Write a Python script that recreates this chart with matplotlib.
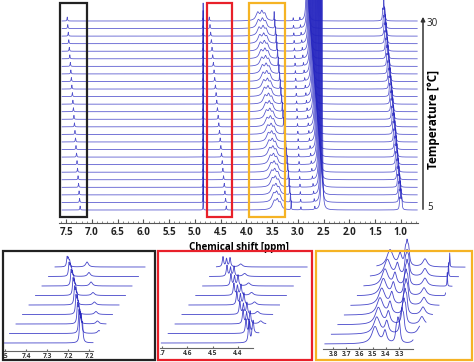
import numpy as np
import matplotlib
matplotlib.use("Agg")
import matplotlib.pyplot as plt
from matplotlib.patches import Rectangle
from matplotlib.ticker import MultipleLocator

plt.rcParams["font.family"] = ["Open Sans", "DejaVu Sans"]

# ---- main stack: 26 spectra, 5 .. 30 degC ----
TEMPS = [5, 6, 7, 8, 9, 10, 11, 12, 13, 14, 15, 16, 17, 18, 19, 20,
         21, 22, 23, 24, 25, 26, 27, 28, 29, 30]
# peak centre at 5 degC and at 30 degC (ppm), height (px), half width (ppm)
PEAK_PPM_5C = [7.23, 4.84, 4.39, 3.46, 3.40, 3.34, 3.13, 2.94, 2.67, 2.53,
               1.02, 1.00, 0.98]
PEAK_PPM_30C = [7.48, 4.84, 4.72, 3.78, 3.70, 3.64, 3.46, 3.09, 2.96, 2.82,
                1.35, 1.33, 1.31]
PEAK_HEIGHT = [4, 18, 4, 8, 8, 6, 9, 3, 3, 600, 10, 19, 10]
PEAK_WIDTH = [0.006, 0.003, 0.006, 0.04, 0.03, 0.03, 0.004, 0.005, 0.005, 0.005,
              0.008, 0.008, 0.008]

MAIN_TICKS = [7.5, 7.0, 6.5, 6.0, 5.5, 5.0, 4.5, 4.0, 3.5, 3.0, 2.5, 2.0, 1.5, 1.0]

# ---- inset 1 (aromatic, black box): 9 spectra, bottom -> top ----
IN1_MAIN = [7.143, 7.179, 7.217, 7.255, 7.293, 7.331, 7.371, 7.412, 7.452]
IN1_MAIN_H = [26, 20, 18, 17, 16, 15, 14, 12, 9]
IN1_SIDE = [7.048, 7.084, 7.122, 7.160, 7.198, 7.236, 7.276, 7.317, 7.357]
IN1_SIDE_H = [3, 3, 3, 3, 3, 3, 4, 4, 5]
IN1_TICKS = [7.5, 7.4, 7.3, 7.2, 7.1]
IN1_LABELS = [".5", "7.4", "7.3", "7.2", "7.2"]

# ---- inset 2 (red box) ----
IN2_MAIN = [4.356, 4.395, 4.434, 4.474, 4.513, 4.552, 4.591, 4.634, 4.677]
IN2_MAIN_H = [23, 14, 14, 13, 13, 12, 12, 11, 10]
IN2_SIDE = [4.286, 4.325, 4.364, 4.404, 4.443, 4.482, 4.521, 4.564, 4.607]
IN2_TICKS = [4.7, 4.6, 4.5, 4.4]
IN2_LABELS = [".7", "4.6", "4.5", "4.4"]

# ---- inset 3 (yellow box) ----
IN3_L = [3.482, 3.518, 3.555, 3.592, 3.628, 3.665, 3.702, 3.733, 3.762]
IN3_MID = [3.406, 3.442, 3.479, 3.516, 3.552, 3.589, 3.626, 3.657, 3.686]
IN3_M = [3.308, 3.327, 3.361, 3.402, 3.444, 3.493, 3.535, 3.584, 3.633]
IN3_R = [3.172, 3.191, 3.225, 3.266, 3.308, 3.357, 3.399, 3.448, 3.497]
IN3_S = [2.99, 3.03, 3.07, 3.11, 3.15, 3.19, 3.23, 3.27, 3.31]
IN3_TICKS = [3.8, 3.7, 3.6, 3.5, 3.4, 3.3]
IN3_LABELS = ["3.8", "3.7", "3.6", "3.5", "3.4", "3.3"]

LINE = "#2525c0"
W, H = 474, 362


def lorentz(x, c, h, w):
    return h / (1 + ((x - c) / w) ** 2)


def fig_rect(x0, y0, x1, y1):
    # image pixel box -> figure fraction [left, bottom, width, height]
    return [x0 / W, (H - y1) / H, (x1 - x0) / W, (y1 - y0) / H]


fig = plt.figure(figsize=(4.74, 3.62), dpi=100)

# ---------------- main stacked plot ----------------
ax = fig.add_axes(fig_rect(59, 0, 418, 223))
x = np.linspace(7.58, 0.68, 12000)
for i, t in enumerate(TEMPS):
    frac = (t - TEMPS[0]) / (TEMPS[-1] - TEMPS[0])
    y = np.full_like(x, 13 + 7.56 * i)
    for p5, p30, h, w in zip(PEAK_PPM_5C, PEAK_PPM_30C, PEAK_HEIGHT, PEAK_WIDTH):
        y += lorentz(x, p5 + (p30 - p5) * frac, h, w)
    ax.plot(x, y, color=LINE, lw=0.55, alpha=0.8)

ax.set_xlim(7.64, 0.665)
ax.set_ylim(0, 223)
ax.set_yticks([])
for s in ["top", "left", "right"]:
    ax.spines[s].set_visible(False)
ax.spines["bottom"].set_color("#555555")
ax.set_xticks(MAIN_TICKS)
ax.set_xticklabels([f"{v:.1f}" for v in MAIN_TICKS], fontsize=7, fontweight="bold",
                   color="#222222")
ax.xaxis.set_minor_locator(MultipleLocator(0.1))
ax.tick_params(axis="x", which="major", direction="in", length=3, color="#555555", pad=3)
ax.tick_params(axis="x", which="minor", direction="in", length=1.5, color="#777777")
ax.set_xlabel("Chemical shift [ppm]", fontsize=7, fontweight="bold", labelpad=3)

# highlight boxes in the main plot
for x0, x1, col in [(7.617, 7.092, "#222222"), (4.762, 4.277, "#e8202a"),
                    (3.947, 3.248, "#f5b324")]:
    ax.add_patch(Rectangle((x0, 6), x1 - x0, 214, fill=False, ec=col, lw=1.6,
                           clip_on=False, zorder=5))

# temperature arrow on the right
ax.annotate("", xy=(423, H - 14), xytext=(423, H - 212), xycoords="figure pixels",
            textcoords="figure pixels",
            arrowprops=dict(arrowstyle="-|>", color="#333333", lw=1.1, mutation_scale=6))
fig.text(427 / W, (H - 24) / H, "30", fontsize=7, va="center", ha="left", color="#222222")
fig.text(427 / W, (H - 207) / H, "5", fontsize=7, va="center", ha="left", color="#222222")
fig.text(434 / W, (H - 119) / H, "Temperature [\u00b0C]", rotation=90, fontsize=8.5,
         fontweight="bold", va="center", ha="center")


# ---------------- insets ----------------
def setup_inset(frame, axrect, color, xlim, ylim, ticks, labels):
    fig.add_artist(Rectangle((frame[0] / W, (H - frame[3]) / H),
                             (frame[2] - frame[0]) / W, (frame[3] - frame[1]) / H,
                             transform=fig.transFigure, fill=False, ec=color, lw=1.6,
                             zorder=10))
    a = fig.add_axes(fig_rect(*axrect))
    a.set_xlim(*xlim)
    a.set_ylim(*ylim)
    a.patch.set_alpha(0)
    a.set_yticks([])
    for s in ["top", "left", "right"]:
        a.spines[s].set_visible(False)
    a.spines["bottom"].set_color("#666666")
    a.spines["bottom"].set_linewidth(0.8)
    a.set_xticks(ticks)
    a.set_xticklabels(labels, fontsize=4.8, fontweight="bold", color="#333333")
    a.tick_params(axis="x", direction="in", length=1.5, pad=1.5, color="#666666")
    return a


# inset 1
a1 = setup_inset((3, 251, 155, 360), (3, 252, 93, 351), "#222222",
                 (7.5095, 7.081), (0, 99), IN1_TICKS, IN1_LABELS)
xi = np.linspace(7.5095, 7.081, 900)
for k in range(9):
    y = np.full_like(xi, 8 + 9.5 * k)
    for d, wt in [(0.0, 1.0), (-0.006, 0.8), (-0.012, 0.6)]:
        y += lorentz(xi, IN1_MAIN[k] + d, IN1_MAIN_H[k] * wt, 0.003)
    y += lorentz(xi, IN1_SIDE[k], IN1_SIDE_H[k], 0.008)
    a1.plot(xi - k * 6.5 / 210, y, color=LINE, lw=0.6, alpha=0.85, clip_on=False)

# inset 2
a2 = setup_inset((158, 251, 312, 360), (160, 252, 253, 348), "#e8202a",
                 (4.708, 4.340), (0, 96), IN2_TICKS, IN2_LABELS)
xi = np.linspace(4.703, 4.344, 900)
for k in range(9):
    y = np.full_like(xi, 5 + 9.5 * k)
    for d, wt in [(0.0, 1.0), (-0.014, 0.8), (-0.028, 0.9)]:
        y += lorentz(xi, IN2_MAIN[k] + d, IN2_MAIN_H[k] * wt, 0.003)
    y += lorentz(xi, IN2_SIDE[k], 3, 0.008)
    a2.plot(xi - k * 6.9 / 253, y, color=LINE, lw=0.6, alpha=0.85, clip_on=False)

# inset 3
a3 = setup_inset((316, 251, 472, 360), (323, 252, 413, 349), "#f5b324",
                 (3.876, 3.194), (0, 97), IN3_TICKS, IN3_LABELS)
xi = np.linspace(3.862, 3.194, 900)
for k in range(9):
    y = np.full_like(xi, 5 + 9.6 * k)
    y += lorentz(xi, IN3_L[k], 17, 0.028)
    y += lorentz(xi, IN3_MID[k], 12, 0.015)
    for d, wt in [(0.0, 1.0), (-0.012, 0.8), (0.012, 0.7)]:
        y += lorentz(xi, IN3_M[k] + d, 18 * wt, 0.008)
    y += lorentz(xi, IN3_R[k], 8, 0.02)
    y += lorentz(xi, IN3_S[k], 14, 0.002)
    a3.plot(xi - k * 6.5 / 132, y, color=LINE, lw=0.6, alpha=0.85, clip_on=False)

fig.savefig("out.png", dpi=100)
